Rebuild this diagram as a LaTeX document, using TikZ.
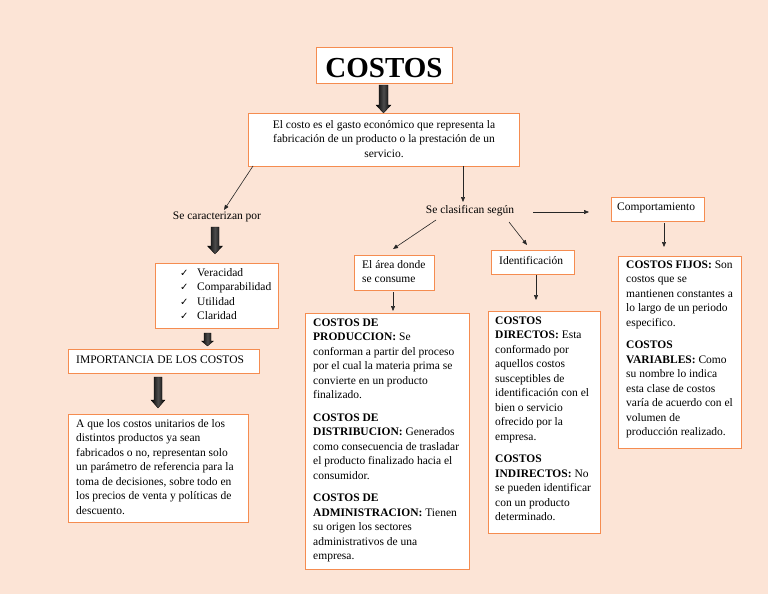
\documentclass[tikz,border=0pt]{standalone}
\usepackage{fontspec}
\setmainfont{Liberation Serif}
\newfontfamily\checkfont{DejaVu Sans}
\usetikzlibrary{arrows.meta}
\definecolor{bgpeach}{RGB}{252,228,214}
\definecolor{boxorange}{RGB}{245,140,80}
\newcommand\fatarrow[6]{%
  \shade[left color=black, right color=black, middle color=black!70, draw=black, line width=0.3pt]
    (#1-#4,#2) -- (#1+#4,#2) -- (#1+#4,#3-#6) -- (#1+#5,#3-#6) -- (#1,#3)
    -- (#1-#5,#3-#6) -- (#1-#4,#3-#6) -- cycle;}
\newcommand\chk{\makebox[17pt][l]{\checkfont\fontsize{10}{10}\selectfont ✓}}
\begin{document}
\begin{tikzpicture}[x=1pt,y=-1pt,
  box/.style={draw=boxorange, line width=1.2pt, fill=white, inner sep=0pt, anchor=north west},
  txt/.style={inner sep=0pt, anchor=north west, align=left, font=\fontsize{11.5}{14.5}\selectfont},
  lbl/.style={inner sep=0pt, font=\fontsize{11.5}{14.5}\selectfont},
  arr/.style={-{Triangle[length=5pt,width=4pt]}, line width=0.6pt, black!85}]
\fill[bgpeach] (0,0) rectangle (768,594);
\useasboundingbox (0,0) rectangle (768,594);

% boxes
\node[box, minimum width=136pt, minimum height=36pt] (title) at (316,47) {};
\node[inner sep=0pt, font=\fontsize{29}{29}\selectfont\bfseries] (titletxt) at (384,68) {COSTOS};

\node[box, minimum width=271pt, minimum height=53pt] (def) at (248,113) {};
\node[lbl, align=center] (deftxt) at (384,139) {El costo es el gasto económico que representa la\\
fabricación de un producto o la prestación de un\\ servicio.};

\node[lbl] (carac) at (217,217) {Se caracterizan por};
\node[lbl] (clasif) at (470,211) {Se clasifican según};

\node[box, minimum width=123pt, minimum height=65pt] (check) at (155,263) {};
\node[txt] (checktxt) at (180,268) {%
\chk Veracidad\\
\chk Comparabilidad\\
\chk Utilidad\\
\chk Claridad};

\node[box, minimum width=191pt, minimum height=24pt] (imp) at (68,349) {};
\node[lbl, anchor=west] (imptxt) at (76,360) {IMPORTANCIA DE LOS COSTOS};

\node[box, minimum width=180pt, minimum height=108pt] (desc) at (68,414) {};
\node[txt] (desctxt) at (76,419) {A que los costos unitarios de los\\
distintos productos ya sean\\
fabricados o no, representan solo\\
un parámetro de referencia para la\\
toma de decisiones, sobre todo en\\
los precios de venta y políticas de\\
descuento.};

\node[box, minimum width=80pt, minimum height=35pt] (area) at (354,255) {};
\node[txt] (areatxt) at (362,260) {El área donde\\ se consume};

\node[box, minimum width=83pt, minimum height=24pt] (ident) at (491,250) {};
\node[lbl, anchor=west] (identtxt) at (499,261) {Identificación};

\node[box, minimum width=93pt, minimum height=24pt] (comp) at (611,197) {};
\node[lbl, anchor=west] (comptxt) at (617,208) {Comportamiento};

\node[box, minimum width=164pt, minimum height=256pt] (prod) at (305,313) {};
\node[txt] (prodtxt) at (313,318.5) {\textbf{COSTOS DE}\\
\textbf{PRODUCCION:} Se\\
conforman a partir del proceso\\
por el cual la materia prima se\\
convierte en un producto\\
finalizado.\\[8pt]
\textbf{COSTOS DE}\\
\textbf{DISTRIBUCION:} Generados\\
como consecuencia de trasladar\\
el producto finalizado hacia el\\
consumidor.\\[8pt]
\textbf{COSTOS DE}\\
\textbf{ADMINISTRACION:} Tienen\\
su origen los sectores\\
administrativos de una\\
empresa.};

\node[box, minimum width=112pt, minimum height=222pt] (dir) at (488,311) {};
\node[txt] (dirtxt) at (495,316.5) {\textbf{COSTOS}\\
\textbf{DIRECTOS:} Esta\\
conformado por\\
aquellos costos\\
susceptibles de\\
identificación con el\\
bien o servicio\\
ofrecido por la\\
empresa.\\[8pt]
\textbf{COSTOS}\\
\textbf{INDIRECTOS:} No\\
se pueden identificar\\
con un producto\\
determinado.};

\node[box, minimum width=123pt, minimum height=192pt] (fijos) at (618,256) {};
\node[txt] (fijostxt) at (626,260.5) {\textbf{COSTOS FIJOS:} Son\\
costos que se\\
mantienen constantes a\\
lo largo de un periodo\\
especifico.\\[8pt]
\textbf{COSTOS}\\
\textbf{VARIABLES:} Como\\
su nombre lo indica\\
esta clase de costos\\
varía de acuerdo con el\\
volumen de\\
producción realizado.};

% block arrows
\fatarrow{383.5}{85}{113}{4.5}{7.5}{8}
\fatarrow{215}{227}{254}{4}{7.5}{8}
\fatarrow{207.5}{333}{346}{3.5}{6}{5}
\fatarrow{158}{377}{408}{4}{7}{8}

% connectors
\coordinate (d1) at (253,166);
\coordinate (c1) at (224,210);
\coordinate (d2) at (463,166);
\coordinate (c2) at (463,202);
\coordinate (s1) at (533,212);
\coordinate (s2) at (436,220);
\coordinate (s3) at (509,222);
\coordinate (a1) at (393,292);
\coordinate (i1) at (536,275);
\coordinate (k1) at (664,223);
\draw[arr] (d1) -- (c1);
\draw[arr] (d2) -- (c2);
\draw[arr] (s1) -- (589,212);
\draw[arr] (s2) -- (393,249);
\draw[arr] (s3) -- (527,245);
\draw[arr] (a1) -- (393,311);
\draw[arr] (i1) -- (536,300);
\draw[arr] (k1) -- (664,247);
\end{tikzpicture}
\end{document}
